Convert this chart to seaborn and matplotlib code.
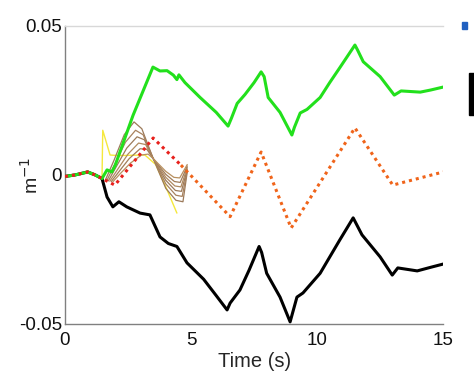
import numpy as np
import pandas as pd
import matplotlib
matplotlib.use('Agg')
import matplotlib.pyplot as plt
import seaborn as sns

# green curve
t_green = [0, 0.4, 0.9, 1.2, 1.47, 1.67, 1.86, 2.0, 2.7, 3.49, 3.77, 4.05, 4.3, 4.44, 4.52,
           4.76, 5.36, 6.0, 6.47, 6.6, 6.83, 7.14, 7.5, 7.78, 7.9, 8.06, 8.53, 9.0, 9.1,
           9.33, 9.6, 10.12, 10.5, 10.9, 11.5, 11.6, 11.83, 12.5, 13.06, 13.33, 14.09, 14.5, 15]
y_green = [-0.0005, 0.0, 0.001, 0.0, -0.0012, 0.0017, 0.001, 0.0034, 0.02, 0.0362, 0.0349,
           0.035, 0.0335, 0.032, 0.0336, 0.031, 0.026, 0.021, 0.0164, 0.019, 0.024, 0.027,
           0.031, 0.0346, 0.033, 0.026, 0.021, 0.0134, 0.016, 0.0208, 0.022, 0.026, 0.031,
           0.036, 0.0436, 0.042, 0.038, 0.033, 0.0268, 0.0282, 0.0278, 0.0285, 0.0295]

# black curve
t_black = [0, 0.4, 0.9, 1.2, 1.47, 1.67, 1.9, 2.14, 2.45, 2.98, 3.37, 3.5, 3.77, 4.1, 4.44,
           4.84, 5.5, 6.0, 6.43, 6.55, 6.94, 7.3, 7.7, 7.8, 8.0, 8.53, 8.93, 9.2, 9.44, 10.12,
           10.9, 11.43, 11.78, 12.5, 12.98, 13.2, 13.97, 14.5, 15]
y_black = [-0.0005, 0.0, 0.001, 0.0, -0.0012, -0.0074, -0.0107, -0.009, -0.0107, -0.0128,
           -0.0134, -0.0158, -0.0208, -0.023, -0.024, -0.0295, -0.035, -0.0405, -0.0453,
           -0.043, -0.0386, -0.032, -0.024, -0.026, -0.033, -0.041, -0.0493, -0.041, -0.0396,
           -0.033, -0.0218, -0.0144, -0.0201, -0.0275, -0.0336, -0.0312, -0.0322, -0.031, -0.0299]

# dotted reference (red part, then orange part)
t_red = [0, 0.4, 0.9, 1.2, 1.47, 1.98, 3.5, 4.6]
y_red = [-0.0005, 0.0, 0.001, 0.0, -0.0012, -0.0034, 0.0124, 0.0033]
t_orange = [4.6, 6.55, 7.78, 8.97, 11.5, 13.0, 15]
y_orange = [0.0033, -0.014, 0.0077, -0.0178, 0.0158, -0.0034, 0.001]

# yellow thin line
t_yellow = [1.47, 1.5, 1.79, 2.1, 2.6, 3.17, 3.6, 4.0, 4.44]
y_yellow = [-0.0012, 0.015, 0.0067, 0.0065, 0.0066, 0.0067, 0.0035, -0.004, -0.0128]

# fan of brown predicted curves
fan_t = [
    [1.6, 1.95, 2.35, 2.74, 3.05, 3.5, 4.0, 4.4, 4.68, 4.85],
    [1.66, 2.0, 2.4, 2.8, 3.1, 3.5, 4.0, 4.4, 4.65, 4.85],
    [1.72, 2.05, 2.45, 2.86, 3.15, 3.5, 4.0, 4.38, 4.62, 4.85],
    [1.78, 2.1, 2.5, 2.92, 3.2, 3.5, 4.0, 4.36, 4.6, 4.85],
    [1.84, 2.15, 2.55, 2.98, 3.25, 3.5, 4.0, 4.34, 4.57, 4.85],
    [1.9, 2.2, 2.6, 3.04, 3.3, 3.5, 4.0, 4.32, 4.55, 4.85],
]
fan_y = [
    [-0.0018, 0.005, 0.0135, 0.0178, 0.0155, 0.0055, -0.0045, -0.0085, -0.009, 0.001],
    [-0.0019, 0.004, 0.011, 0.015, 0.0135, 0.0055, -0.003, -0.0068, -0.0072, 0.0015],
    [-0.002, 0.003, 0.009, 0.0128, 0.0118, 0.0055, -0.0018, -0.0052, -0.0055, 0.002],
    [-0.0021, 0.002, 0.007, 0.0107, 0.0102, 0.0055, -0.0008, -0.0037, -0.004, 0.0025],
    [-0.0022, 0.0012, 0.0055, 0.0088, 0.0086, 0.0055, 0.0002, -0.0022, -0.0025, 0.003],
    [-0.0023, 0.0005, 0.004, 0.0067, 0.007, 0.0055, 0.0012, -0.0008, -0.001, 0.0035],
]
fan_colors = ['#9c7a5a', '#a8825e', '#9c7a5a', '#b08a60', '#a07c58', '#b89060']

sns.set_style('white')
plt.rcParams['font.family'] = ['Liberation Sans', 'DejaVu Sans']

fig = plt.figure(figsize=(4.74, 3.82), dpi=100)
ax = fig.add_axes([0.137, 0.152, 0.798, 0.780])

for i in range(len(fan_t)):
    d = pd.DataFrame({'t': fan_t[i], 'y': fan_y[i]})
    sns.lineplot(data=d, x='t', y='y', ax=ax, color=fan_colors[i], lw=0.9,
                 sort=False, estimator=None, zorder=3)

d = pd.DataFrame({'t': t_yellow, 'y': y_yellow})
sns.lineplot(data=d, x='t', y='y', ax=ax, color='#f5e83c', lw=1.0, sort=False,
             estimator=None, zorder=2)

d = pd.DataFrame({'t': t_black, 'y': y_black})
sns.lineplot(data=d, x='t', y='y', ax=ax, color='black', lw=2.2, sort=False,
             estimator=None, zorder=4)

d = pd.DataFrame({'t': t_green, 'y': y_green})
sns.lineplot(data=d, x='t', y='y', ax=ax, color='#22e01c', lw=2.2, sort=False,
             estimator=None, zorder=5)

d = pd.DataFrame({'t': t_red, 'y': y_red})
sns.lineplot(data=d, x='t', y='y', ax=ax, color='#e8201c', lw=2.2, ls=(0, (1, 1.3)),
             sort=False, estimator=None, zorder=6)
d = pd.DataFrame({'t': t_orange, 'y': y_orange})
sns.lineplot(data=d, x='t', y='y', ax=ax, color='#f0641a', lw=2.2, ls=(0, (1, 1.3)),
             sort=False, estimator=None, zorder=6)

ax.set_xlim(0, 15)
ax.set_ylim(-0.05, 0.05)
ax.set_xticks([0, 5, 10, 15])
ax.set_xticklabels(['0', '5', '10', '15'])
ax.set_yticks([-0.05, 0, 0.05])
ax.set_yticklabels(['-0.05', '0', '0.05'])
ax.tick_params(direction='in', length=4, width=0.8, color='#808080', labelsize=13.5,
               labelcolor='#111111')
ax.tick_params(axis='x', pad=6)
ax.tick_params(axis='y', pad=2)
ax.set_xlabel('Time (s)', fontsize=14.5)
ax.xaxis.set_label_coords(0.5, -0.095)
ax.set_ylabel('m$^{-1}$', fontsize=14)
ax.yaxis.set_label_coords(-0.06, 0.5)

ax.spines['right'].set_visible(False)
ax.spines['top'].set_color('#d8d8d8')
ax.spines['left'].set_color('#808080')
ax.spines['bottom'].set_color('#808080')
for s in ax.spines.values():
    s.set_linewidth(1.0)

# clipped legend pieces at right edge
fig.patches.append(plt.Rectangle((0.975, 0.925), 0.01, 0.018, transform=fig.transFigure,
                                 color='#2060c0', zorder=10))
fig.patches.append(plt.Rectangle((0.99, 0.70), 0.01, 0.11, transform=fig.transFigure,
                                 color='black', zorder=10))

fig.savefig('out.png', dpi=100)
